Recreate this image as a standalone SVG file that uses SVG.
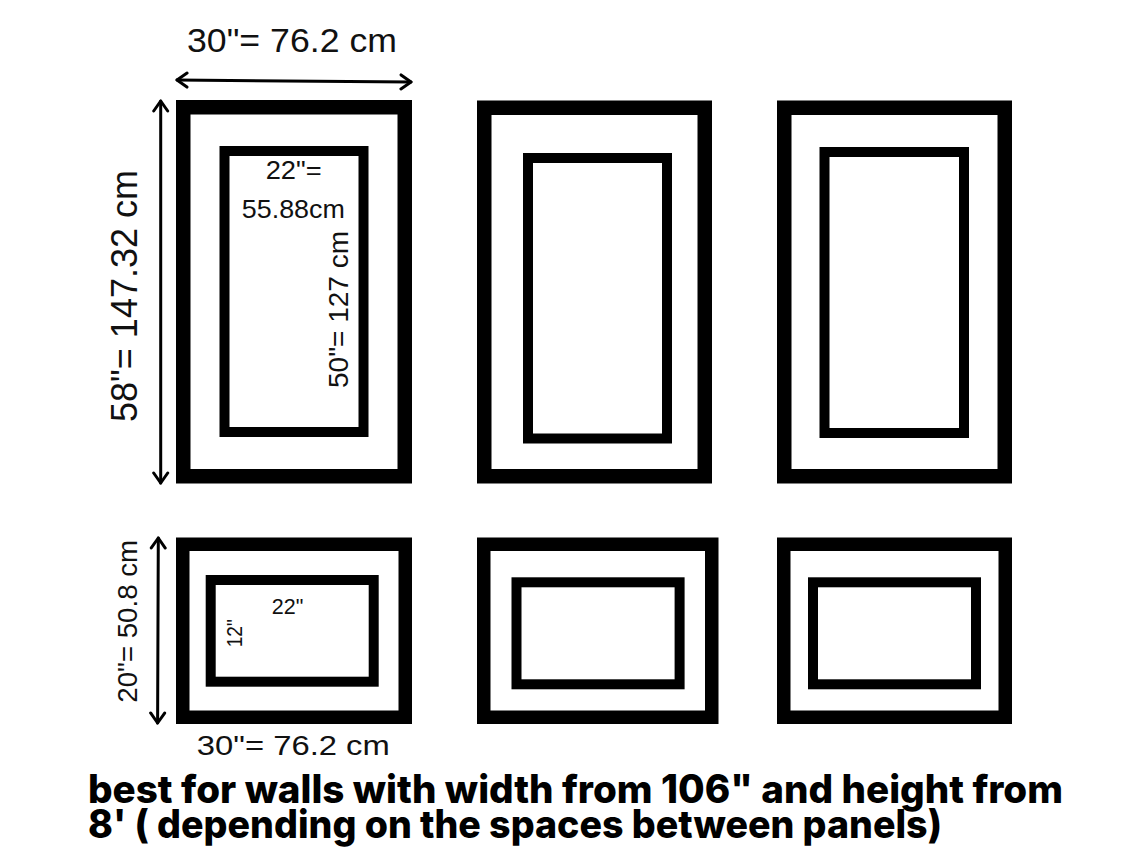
<svg xmlns="http://www.w3.org/2000/svg" width="1140" height="855" viewBox="0 0 1140 855">
  <style>
    .outer { fill: none; stroke: #000; stroke-width: 14.5; }
    .outerb { fill: none; stroke: #000; stroke-width: 13.5; }
    .inner { fill: none; stroke: #000; stroke-width: 10; }
    .dim { fill: none; stroke: #000; stroke-width: 3; stroke-linecap: round; }
    .lbl { font-family: "Liberation Sans", Arial, sans-serif; fill: #111; }
    .note { font-family: Inter, Lato, "Liberation Sans", sans-serif; font-weight: 800; fill: #000; font-size: 39px; }
  </style>
  <defs>
    <marker id="chev" viewBox="-13 -9 15 18" refX="0" refY="0" markerWidth="15" markerHeight="18" markerUnits="userSpaceOnUse" orient="auto-start-reverse">
      <path d="M-10,-7 L0,0 L-10,7" fill="none" stroke="#000" stroke-width="3" stroke-linecap="round" stroke-linejoin="round"/>
    </marker>
  </defs>
  <rect width="1140" height="855" fill="#fff"/>

  <g id="panel-top-left">
    <rect class="outer" x="183.25" y="107.25" width="221.5" height="369"/>
    <rect class="inner" x="224.5" y="151" width="139" height="281"/>
  </g>
  <g id="panel-top-middle">
    <rect class="outer" x="484.25" y="107.75" width="220.5" height="368.5"/>
    <rect class="inner" x="528" y="158" width="139" height="280.5"/>
  </g>
  <g id="panel-top-right">
    <rect class="outer" x="784.25" y="107.75" width="220.5" height="368.5"/>
    <rect class="inner" x="824.5" y="152" width="139.5" height="281"/>
  </g>
  <g id="panel-bottom-left">
    <rect class="outerb" x="182.75" y="544.25" width="222.5" height="173"/>
    <rect class="inner" x="210.7" y="580" width="163" height="101.7"/>
  </g>
  <g id="panel-bottom-middle">
    <rect class="outerb" x="483.75" y="544.25" width="228" height="173"/>
    <rect class="inner" x="516.5" y="582.3" width="163.1" height="102"/>
  </g>
  <g id="panel-bottom-right">
    <rect class="outerb" x="783.75" y="544.25" width="221.5" height="173"/>
    <rect class="inner" x="813" y="582.3" width="163" height="102"/>
  </g>

  <g id="connectors">
    <line class="dim" x1="177" y1="80" x2="411" y2="82" marker-start="url(#chev)" marker-end="url(#chev)"/>
    <line class="dim" x1="160.7" y1="101" x2="160.7" y2="483" marker-start="url(#chev)" marker-end="url(#chev)"/>
    <line class="dim" x1="158.3" y1="538" x2="157.6" y2="723" marker-start="url(#chev)" marker-end="url(#chev)"/>
  </g>

  <g id="labels">
    <text class="lbl" x="292" y="52" font-size="34" text-anchor="middle" textLength="210" lengthAdjust="spacingAndGlyphs">30"= 76.2 cm</text>
    <text class="lbl" transform="translate(137.3,296) rotate(-90)" font-size="36" text-anchor="middle" textLength="252" lengthAdjust="spacingAndGlyphs">58"= 147.32 cm</text>
    <text class="lbl" x="293.7" y="179" font-size="25" text-anchor="middle" textLength="56" lengthAdjust="spacingAndGlyphs">22"=</text>
    <text class="lbl" x="293.3" y="218.3" font-size="25.5" text-anchor="middle" textLength="103" lengthAdjust="spacingAndGlyphs">55.88cm</text>
    <text class="lbl" transform="translate(348.3,309.5) rotate(-90)" font-size="27" text-anchor="middle" textLength="157" lengthAdjust="spacingAndGlyphs">50"= 127 cm</text>
    <text class="lbl" x="287.5" y="614" font-size="22" text-anchor="middle" textLength="31.6" lengthAdjust="spacingAndGlyphs">22"</text>
    <text class="lbl" transform="translate(241.7,633.3) rotate(-90)" font-size="22" text-anchor="middle" textLength="28" lengthAdjust="spacingAndGlyphs">12"</text>
    <text class="lbl" transform="translate(137.3,621.3) rotate(-90)" font-size="28.5" text-anchor="middle" textLength="162.7" lengthAdjust="spacingAndGlyphs">20"= 50.8 cm</text>
    <text class="lbl" x="293.3" y="755" font-size="28.5" text-anchor="middle" textLength="193" lengthAdjust="spacingAndGlyphs">30"= 76.2 cm</text>
  </g>

  <g id="note">
    <text class="note" x="88" y="803" textLength="975" lengthAdjust="spacingAndGlyphs">best for walls with width from 106" and height from</text>
    <text class="note" x="88" y="838" textLength="854" lengthAdjust="spacingAndGlyphs">8' ( depending on the spaces between panels)</text>
  </g>
</svg>
